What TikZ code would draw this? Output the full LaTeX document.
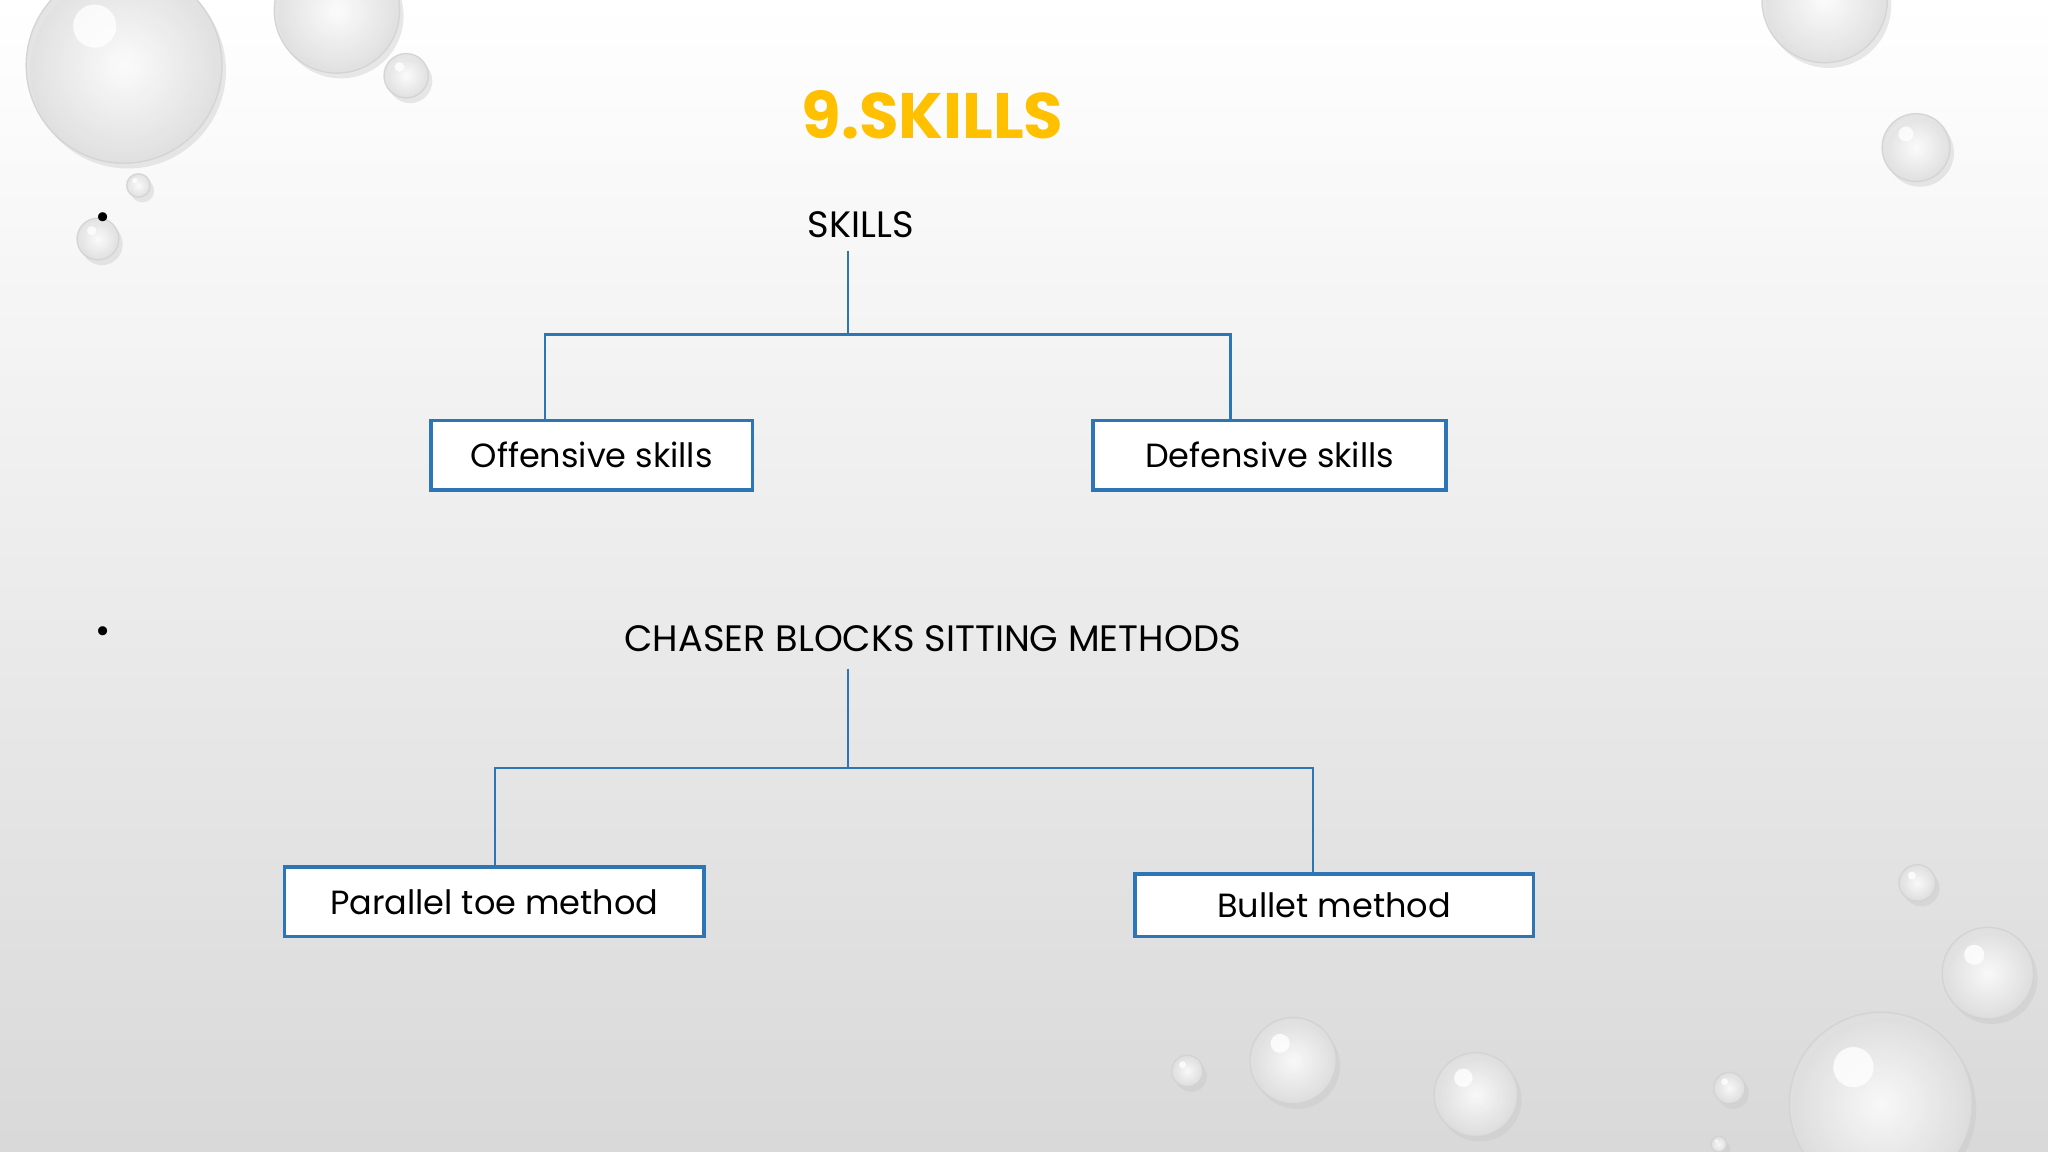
\documentclass[tikz,border=0pt]{standalone}
\usepackage{fontspec}
\setmainfont{Poppins}
\definecolor{lineblue}{HTML}{2E75B6}
\definecolor{titleyellow}{HTML}{FFC000}
\tikzset{
  conn/.style={draw=lineblue, line width=0.5pt},
  boxnode/.style={draw=lineblue, line width=0.8pt, fill=white, inner sep=0pt, font=\fontsize{7.3}{9}\selectfont},
  lbl/.style={font=\fontsize{8}{10}\selectfont, text=black},
  drop/.style={inner color=white, outer color=gray!25, draw=gray!35, line width=0.3pt, opacity=0.85}
}
\begin{document}
\begin{tikzpicture}[x=0.01cm,y=-0.01cm]
\shade[top color=white, bottom color=gray!30] (0,0) rectangle (1568,882);
\useasboundingbox (0,0) rectangle (1568,882);
% drops
\foreach \x/\y/\r in {95/50/75,258/8/48,311/58/17,106/142/9,75/183/16,1397/0/48,1467/113/26,1468/676/14,1522/745/35,990/812/33,909/820/12,1130/838/32,1324/833/12,1440/845/70,1316/876/6}{
  \fill[gray!45,opacity=0.4] (\x+3,\y+4) circle (\r);
  \shade[drop] (\x,\y) circle (\r);
  \fill[white,opacity=0.8] (\x-0.3*\r,\y-0.4*\r) circle (0.22*\r);
}
\node[font=\bfseries\fontsize{14}{16}\selectfont, text=titleyellow] (title) at (714,88) {9.SKILLS};
\node[lbl] (b1) at (79,169) {•};
\node[lbl] (b2) at (79,486) {•};
\node[lbl] (skills) at (659,172) {SKILLS};
\node[boxnode, minimum width=2.46cm, minimum height=0.53cm] (off) at (453,348.5) {Offensive skills};
\node[boxnode, minimum width=2.70cm, minimum height=0.53cm] (def) at (972,348.5) {Defensive skills};
\node[lbl] (chaser) at (714,489) {CHASER BLOCKS SITTING METHODS};
\node[boxnode, minimum width=3.21cm, minimum height=0.53cm] (par) at (378.5,690.5) {Parallel toe method};
\node[boxnode, minimum width=3.05cm, minimum height=0.48cm] (bul) at (1021.5,693) {Bullet method};
\coordinate (s0) at (649,192);
\coordinate (sj) at (649,256);
\coordinate (sl) at (417,256);
\coordinate (sr) at (942,256);
\draw[conn] (s0) -- (sj);
\draw[conn] (sj) -- (sl) -- (sl |- off.north);
\draw[conn] (sj) -- (sr) -- (sr |- def.north);
\coordinate (c0) at (649,512);
\coordinate (cj) at (649,588);
\coordinate (cl) at (379,588);
\coordinate (cr) at (1005,588);
\draw[conn] (c0) -- (cj);
\draw[conn] (cj) -- (cl) -- (cl |- par.north);
\draw[conn] (cj) -- (cr) -- (cr |- bul.north);
\end{tikzpicture}
\end{document}
